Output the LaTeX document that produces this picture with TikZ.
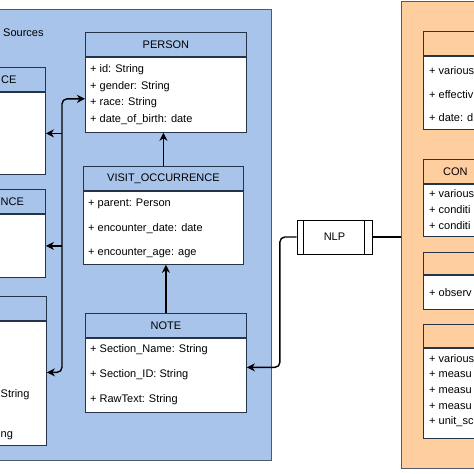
\documentclass[tikz,border=0pt]{standalone}
\usepackage{fontspec}
\setmainfont{Liberation Sans}
\usepackage{tikz}
\usetikzlibrary{arrows,arrows.meta,calc}
\definecolor{srcblue}{HTML}{A9C4EB}
\definecolor{omoporange}{HTML}{FFCE9F}
\definecolor{frameline}{HTML}{4D5B6B}
\definecolor{boxline}{HTML}{26344A}
\tikzset{
  container/.style={draw=frameline, line width=1pt, anchor=north west, inner sep=0pt},
  head/.style={draw=boxline, line width=0.9pt, anchor=north west, minimum width=161pt, minimum height=24pt, inner sep=0pt},
  body/.style={draw=boxline, fill=white, line width=0.9pt, anchor=north west, minimum width=161pt, inner sep=0pt},
  attr/.style={anchor=west, inner sep=0pt},
  link/.style={line width=1.4pt, >={Stealth[length=8pt,width=8pt,inset=2.5pt]}},
}
\begin{document}
\begin{tikzpicture}[x=1pt, y=-1pt, font=\fontsize{11}{13}\selectfont]
\useasboundingbox (0,0) rectangle (474,474);
\node[container, fill=srcblue, minimum width=291pt, minimum height=451pt] (src) at (-20,9) {};
\node[container, fill=omoporange, minimum width=120pt, minimum height=467pt] (omop) at (401,1) {};
\node[attr] (srclabel) at (3,33) {Sources};

\node[head, fill=srcblue] (person) at (85,32) {PERSON};
\node[body, minimum height=75pt] (person-b) at (person.south west) {};
\foreach \t [count=\i from 0] in {+ id: String, + gender: String, + race: String, + date\_of\_birth: date}
  \node[attr] at ($(person-b.north west)+(5,13+16.6*\i)$) {\t};

\node[head, fill=srcblue, minimum width=160pt] (visit) at (83,166) {VISIT\_OCCURRENCE};
\node[body, minimum width=160pt, minimum height=73pt] (visit-b) at (visit.south west) {};
\foreach \t [count=\i from 0] in {+ parent: Person, + encounter\_date: date, + encounter\_age: age}
  \node[attr] at ($(visit-b.north west)+(5,13+24.5*\i)$) {\t};

\node[head, fill=srcblue] (note) at (85,313) {NOTE};
\node[body, minimum height=74pt] (note-b) at (note.south west) {};
\foreach \t [count=\i from 0] in {+ Section\_Name: String, + Section\_ID: String, + RawText: String}
  \node[attr] at ($(note-b.north west)+(5,12+25*\i)$) {\t};

\node[head, fill=srcblue, minimum width=105pt] (left1) at (-60,67) {};
\node[body, minimum width=105pt, minimum height=82pt] (left1-b) at (left1.south west) {};
\node[attr] at ($(left1.west)+(61,0)$) {CE};
\node[head, fill=srcblue, minimum width=105pt] (left2) at (-60,189) {};
\node[body, minimum width=105pt, minimum height=63pt] (left2-b) at (left2.south west) {};
\node[attr] at ($(left2.west)+(60.5,0)$) {NCE};
\node[head, fill=srcblue, minimum width=106pt] (left3) at (-60,296) {};
\node[body, minimum width=106pt, minimum height=124pt] (left3-b) at (left3.south west) {};
\node[attr] at ($(left3-b.north west)+(60.5,74)$) {String};
\node[attr] at ($(left3-b.north west)+(60.5,115)$) {ng};

\node[head, fill=omoporange, minimum width=140pt] (omopa) at (423,31) {};
\node[body, minimum width=140pt, minimum height=73pt] (omopa-b) at (omopa.south west) {};
\foreach \t [count=\i from 0] in {+ various, + effectiv, + date: d}
  \node[attr] at ($(omopa-b.north west)+(6,15+23.5*\i)$) {\t};
\node[head, fill=omoporange, minimum width=140pt] (omopb) at (423,159) {};
\node[attr] at ($(omopb.west)+(20,0)$) {CON};
\node[body, minimum width=140pt, minimum height=52pt] (omopb-b) at (omopb.south west) {};
\foreach \t [count=\i from 0] in {+ various, + conditi, + conditi}
  \node[attr] at ($(omopb-b.north west)+(6,10+16*\i)$) {\t};
\node[head, fill=omoporange, minimum width=140pt, minimum height=22pt] (omopc) at (423,252) {};
\node[body, minimum width=140pt, minimum height=34pt] (omopc-b) at (omopc.south west) {};
\node[attr] at ($(omopc-b.north west)+(6,18)$) {+ observ};
\node[head, fill=omoporange, minimum width=140pt, minimum height=23pt] (omopd) at (423,324) {};
\node[body, minimum width=140pt, minimum height=90pt] (omopd-b) at (omopd.south west) {};
\foreach \t [count=\i from 0] in {+ various, + measu, + measu, + measu, + unit\_sc}
  \node[attr] at ($(omopd-b.north west)+(6,11+15.8*\i)$) {\t};

\node[draw=black, line width=1pt, minimum width=75pt, minimum height=34pt] (nlp) at (334.5,237) {NLP};
\draw[line width=1pt] ([xshift=7pt]nlp.north west) -- ([xshift=7pt]nlp.south west);
\draw[line width=1pt] ([xshift=-8pt]nlp.north east) -- ([xshift=-8pt]nlp.south east);

\coordinate (bus) at ($(person-b.west)+(-23,0)$);
\draw[link,->] (visit.north) -- (visit.north |- person-b.south);
\draw[link,->] (note.north) -- (note.north |- visit-b.south);
\draw[link,<->,rounded corners=5pt] ($(left3-b.east)+(0,-11)$) -| ($(bus)+(0,4)$) -- ($(person-b.west)+(0,4)$);
\draw[link,->] (bus |- left1-b.east) -- (left1-b.east);
\draw[link,->] (bus |- left2-b.east) -- (left2-b.east);
\draw[link] (nlp.east) -- (nlp.east -| omop.west);
\draw[link,->,rounded corners=5pt] (nlp.west) -| ($(note-b.east)+(33,-8)$) -- ($(note-b.east)+(0,-8)$);
\end{tikzpicture}
\end{document}
